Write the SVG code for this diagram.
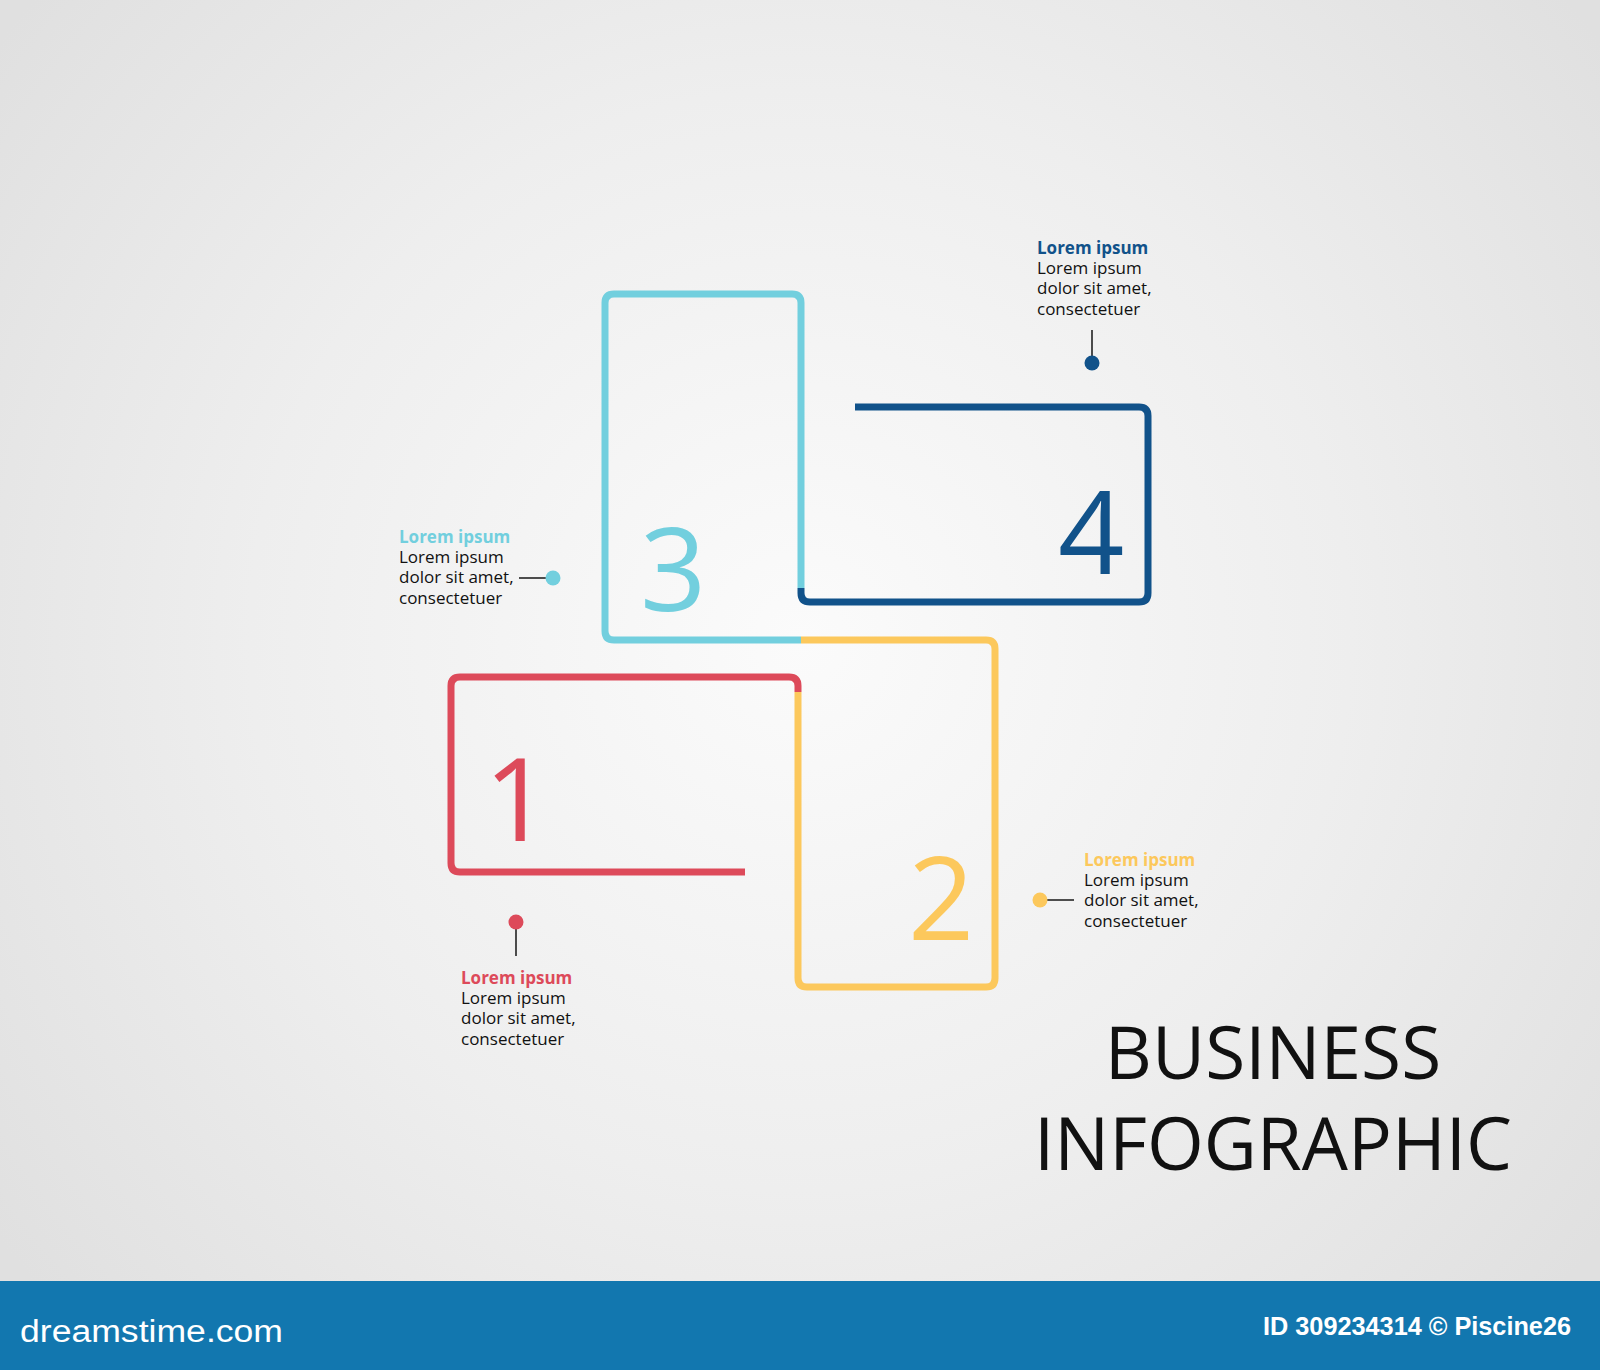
<svg xmlns="http://www.w3.org/2000/svg" width="1600" height="1370" viewBox="0 0 1600 1370">
  <defs>
    <radialGradient id="bg" cx="800" cy="640" r="1000" gradientUnits="userSpaceOnUse">
      <stop offset="0" stop-color="#fbfbfb"/>
      <stop offset="0.55" stop-color="#eeeeee"/>
      <stop offset="1" stop-color="#e0e0e0"/>
    </radialGradient>
  </defs>
  <style>
    .shape { fill: none; stroke-width: 7; stroke-linecap: butt; stroke-linejoin: round; }
    .num { font-family: "Open Sans", "Noto Sans", sans-serif; font-size: 116px; font-weight: 400; }
    .lt { font-family: "Open Sans", "Noto Sans", sans-serif; font-size: 17px; font-weight: 700; }
    .lb { font-family: "Open Sans", "Noto Sans", sans-serif; font-size: 17px; fill: #111111; }
    .pin { stroke: #222222; stroke-width: 1.6; }
    .title { font-family: "Open Sans", "Noto Sans", sans-serif; font-size: 73px; fill: #111111; text-anchor: middle; }
  </style>
  <rect x="0" y="0" width="1600" height="1370" fill="url(#bg)"/>

  <g id="connectors">
    <line class="pin" x1="1092" y1="330" x2="1092" y2="362"/>
    <line class="pin" x1="519" y1="578" x2="546" y2="578"/>
    <line class="pin" x1="1046" y1="900" x2="1074" y2="900"/>
    <line class="pin" x1="516" y1="922" x2="516" y2="956"/>
  </g>

  <g id="node-3">
    <path class="shape" stroke="#72cfde" d="M801,588 L801,303 Q801,294 792,294 L614,294 Q605,294 605,303 L605,631 Q605,640 614,640 L801,640"/>
    <text class="num" x="640" y="611" fill="#72cfde">3</text>
  </g>
  <g id="node-4">
    <path class="shape" stroke="#11528a" d="M855,407 L1139,407 Q1148,407 1148,416 L1148,593 Q1148,602 1139,602 L810,602 Q801,602 801,593 L801,588"/>
    <text class="num" x="1058" y="574" fill="#11528a">4</text>
  </g>
  <g id="node-2">
    <path class="shape" stroke="#fcc85c" d="M801,640 L986,640 Q995,640 995,649 L995,978 Q995,987 986,987 L807,987 Q798,987 798,978 L798,692"/>
    <text class="num" x="908" y="940" fill="#fcc85c">2</text>
  </g>
  <g id="node-1">
    <path class="shape" stroke="#dd4a5a" d="M798,692 L798,686 Q798,677 789,677 L460,677 Q451,677 451,686 L451,863 Q451,872 460,872 L745,872"/>
    <text class="num" x="484" y="841" fill="#dd4a5a">1</text>
  </g>

  <g id="label-4">
    <circle cx="1092" cy="363" r="7.5" fill="#11528a"/>
    <text class="lt" x="1037" y="254" fill="#11528a">Lorem ipsum</text>
    <text class="lb" x="1037" y="274">Lorem ipsum</text>
    <text class="lb" x="1037" y="294">dolor sit amet,</text>
    <text class="lb" x="1037" y="315">consectetuer</text>
  </g>
  <g id="label-3">
    <circle cx="553" cy="578" r="7.5" fill="#72cfde"/>
    <text class="lt" x="399" y="543" fill="#72cfde">Lorem ipsum</text>
    <text class="lb" x="399" y="563">Lorem ipsum</text>
    <text class="lb" x="399" y="583">dolor sit amet,</text>
    <text class="lb" x="399" y="604">consectetuer</text>
  </g>
  <g id="label-2">
    <circle cx="1040" cy="900" r="7.5" fill="#fcc85c"/>
    <text class="lt" x="1084" y="866" fill="#fcc85c">Lorem ipsum</text>
    <text class="lb" x="1084" y="886">Lorem ipsum</text>
    <text class="lb" x="1084" y="906">dolor sit amet,</text>
    <text class="lb" x="1084" y="927">consectetuer</text>
  </g>
  <g id="label-1">
    <circle cx="516" cy="922" r="7.5" fill="#dd4a5a"/>
    <text class="lt" x="461" y="984" fill="#dd4a5a">Lorem ipsum</text>
    <text class="lb" x="461" y="1004">Lorem ipsum</text>
    <text class="lb" x="461" y="1024">dolor sit amet,</text>
    <text class="lb" x="461" y="1045">consectetuer</text>
  </g>

  <g id="title">
    <text class="title" x="1273" y="1079">BUSINESS</text>
    <text class="title" x="1273" y="1170">INFOGRAPHIC</text>
  </g>

  <g id="footer">
    <rect x="0" y="1281" width="1600" height="89" fill="#1277af"/>
    <text x="20" y="1342" fill="#ffffff" font-family="'Liberation Sans', sans-serif" font-size="31" textLength="263" lengthAdjust="spacingAndGlyphs">dreamstime.com</text>
    <text x="1571" y="1335" fill="#ffffff" font-family="'Liberation Sans', sans-serif" font-size="25" font-weight="700" text-anchor="end" textLength="308" lengthAdjust="spacingAndGlyphs">ID 309234314 © Piscine26</text>
  </g>
</svg>
